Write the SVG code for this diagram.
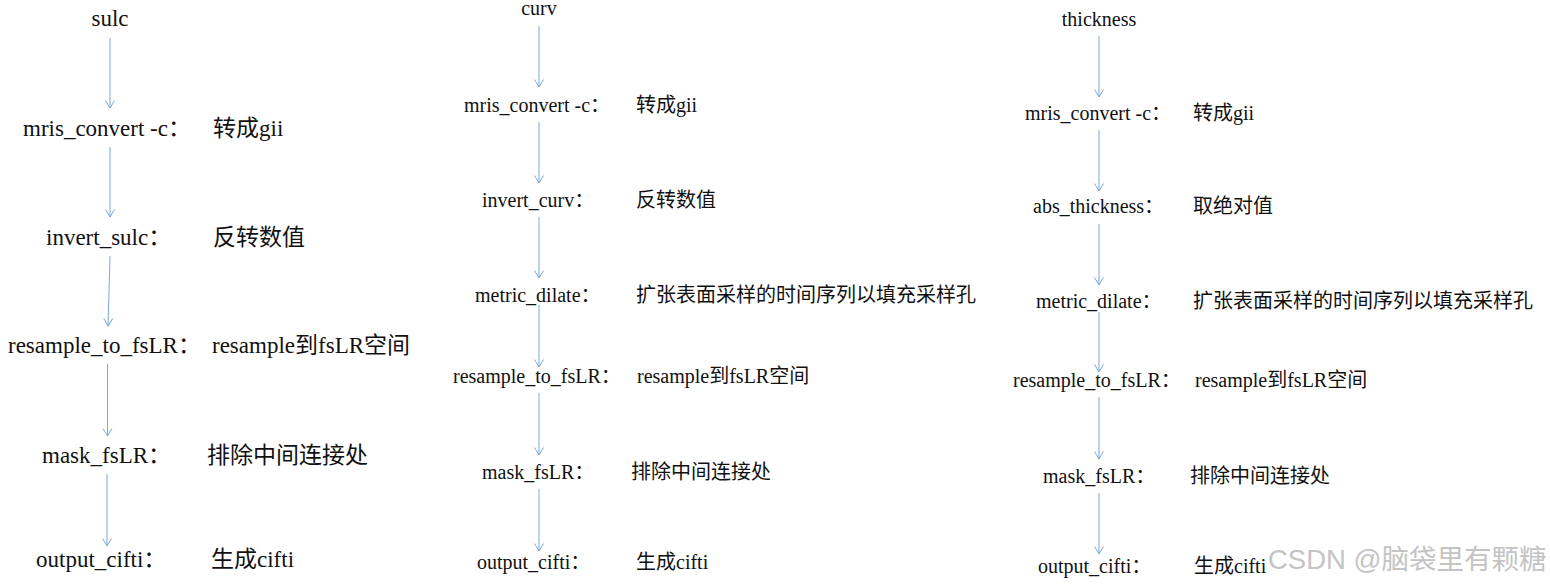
<svg xmlns="http://www.w3.org/2000/svg" width="1550" height="588" viewBox="0 0 1550 588">
<style>
  text { font-family: "Liberation Serif", "Noto Sans CJK SC", serif; fill: #111; }
  .cj { font-family: "Noto Sans CJK SC", sans-serif; }
  .lt { font-family: "Liberation Serif", serif; }
  .c1 { font-size: 23px; }
  .c2 { font-size: 20px; }
  .c3 { font-size: 20px; }
  .mid { text-anchor: middle; }
  .conn line { stroke: #7ba7da; stroke-width: 1; fill: none; }
  .wm { font-family: "Liberation Sans", "Noto Sans CJK SC", sans-serif; font-size: 27.5px; fill: #c4c4c4; }
</style>
<defs>
  <marker id="arr" markerUnits="userSpaceOnUse" markerWidth="12" markerHeight="12" viewBox="-10 -6 12 12" refX="0" refY="0" orient="auto" overflow="visible">
    <path d="M-7.5,-4.5 L0,0 L-7.5,4.5" fill="none" stroke="#7ba7da" stroke-width="1"/>
  </marker>
</defs>
<rect width="1550" height="588" fill="#ffffff"/>

<g class="conn" id="connectors">
  <!-- column 1 -->
  <line x1="110" y1="38" x2="110" y2="108" marker-end="url(#arr)"/>
  <line x1="110" y1="147" x2="110" y2="217" marker-end="url(#arr)"/>
  <line x1="110" y1="256" x2="108" y2="326" marker-end="url(#arr)"/>
  <line x1="107.5" y1="364" x2="107.5" y2="436" marker-end="url(#arr)"/>
  <line x1="107" y1="474" x2="107" y2="546" marker-end="url(#arr)"/>
  <!-- column 2 -->
  <line x1="539" y1="26" x2="539" y2="87" marker-end="url(#arr)"/>
  <line x1="539" y1="122" x2="539" y2="183" marker-end="url(#arr)"/>
  <line x1="539" y1="217" x2="539" y2="278" marker-end="url(#arr)"/>
  <line x1="539" y1="305" x2="539" y2="367" marker-end="url(#arr)"/>
  <line x1="539" y1="393" x2="539" y2="455" marker-end="url(#arr)"/>
  <line x1="539" y1="489" x2="539" y2="551" marker-end="url(#arr)"/>
  <!-- column 3 -->
  <line x1="1099" y1="36" x2="1099" y2="97" marker-end="url(#arr)"/>
  <line x1="1099" y1="130" x2="1099" y2="191" marker-end="url(#arr)"/>
  <line x1="1099" y1="224" x2="1099" y2="285" marker-end="url(#arr)"/>
  <line x1="1099" y1="312" x2="1099" y2="372" marker-end="url(#arr)"/>
  <line x1="1099" y1="397" x2="1099" y2="459" marker-end="url(#arr)"/>
  <line x1="1099" y1="493" x2="1099" y2="554" marker-end="url(#arr)"/>
</g>

<!-- Column 1: sulc -->
<g id="sulc"><text class="c1 mid" x="110" y="26">sulc</text></g>
<g id="sulc-mris_convert"><text class="c1" x="23" y="136"><tspan class="lt">mris_convert -c</tspan><tspan class="cj">：</tspan></text><text class="c1" x="213" y="136"><tspan class="cj">转成</tspan><tspan class="lt">gii</tspan></text></g>
<g id="sulc-invert_sulc"><text class="c1" x="46" y="245"><tspan class="lt">invert_sulc</tspan><tspan class="cj">：</tspan></text><text class="c1 cj" x="213" y="245">反转数值</text></g>
<g id="sulc-resample_to_fsLR"><text class="c1" x="8" y="353"><tspan class="lt">resample_to_fsLR</tspan><tspan class="cj">：</tspan></text><text class="c1" x="212" y="353"><tspan class="lt">resample</tspan><tspan class="cj">到</tspan><tspan class="lt">fsLR</tspan><tspan class="cj">空间</tspan></text></g>
<g id="sulc-mask_fsLR"><text class="c1" x="42" y="463"><tspan class="lt">mask_fsLR</tspan><tspan class="cj">：</tspan></text><text class="c1 cj" x="207" y="463">排除中间连接处</text></g>
<g id="sulc-output_cifti"><text class="c1" x="36" y="567"><tspan class="lt">output_cifti</tspan><tspan class="cj">：</tspan></text><text class="c1" x="211" y="567"><tspan class="cj">生成</tspan><tspan class="lt">cifti</tspan></text></g>

<!-- Column 2: curv -->
<g id="curv"><text class="c2 mid" x="539" y="15">curv</text></g>
<g id="curv-mris_convert"><text class="c2" x="464" y="112"><tspan class="lt">mris_convert -c</tspan><tspan class="cj">：</tspan></text><text class="c2" x="636" y="112"><tspan class="cj">转成</tspan><tspan class="lt">gii</tspan></text></g>
<g id="curv-invert_curv"><text class="c2" x="482" y="207"><tspan class="lt">invert_curv</tspan><tspan class="cj">：</tspan></text><text class="c2 cj" x="636" y="207">反转数值</text></g>
<g id="curv-metric_dilate"><text class="c2" x="475" y="302"><tspan class="lt">metric_dilate</tspan><tspan class="cj">：</tspan></text><text class="c2 cj" x="636" y="302">扩张表面采样的时间序列以填充采样孔</text></g>
<g id="curv-resample_to_fsLR"><text class="c2" x="453" y="383"><tspan class="lt">resample_to_fsLR</tspan><tspan class="cj">：</tspan></text><text class="c2" x="637" y="383"><tspan class="lt">resample</tspan><tspan class="cj">到</tspan><tspan class="lt">fsLR</tspan><tspan class="cj">空间</tspan></text></g>
<g id="curv-mask_fsLR"><text class="c2" x="482" y="479"><tspan class="lt">mask_fsLR</tspan><tspan class="cj">：</tspan></text><text class="c2 cj" x="631" y="479">排除中间连接处</text></g>
<g id="curv-output_cifti"><text class="c2" x="477" y="569"><tspan class="lt">output_cifti</tspan><tspan class="cj">：</tspan></text><text class="c2" x="636" y="569"><tspan class="cj">生成</tspan><tspan class="lt">cifti</tspan></text></g>

<!-- Column 3: thickness -->
<g id="thickness"><text class="c3 mid" x="1099" y="26">thickness</text></g>
<g id="thickness-mris_convert"><text class="c3" x="1025" y="120"><tspan class="lt">mris_convert -c</tspan><tspan class="cj">：</tspan></text><text class="c3" x="1193" y="120"><tspan class="cj">转成</tspan><tspan class="lt">gii</tspan></text></g>
<g id="thickness-abs_thickness"><text class="c3" x="1033" y="213"><tspan class="lt">abs_thickness</tspan><tspan class="cj">：</tspan></text><text class="c3 cj" x="1193" y="213">取绝对值</text></g>
<g id="thickness-metric_dilate"><text class="c3" x="1036" y="308"><tspan class="lt">metric_dilate</tspan><tspan class="cj">：</tspan></text><text class="c3 cj" x="1193" y="308">扩张表面采样的时间序列以填充采样孔</text></g>
<g id="thickness-resample_to_fsLR"><text class="c3" x="1013" y="387"><tspan class="lt">resample_to_fsLR</tspan><tspan class="cj">：</tspan></text><text class="c3" x="1195" y="387"><tspan class="lt">resample</tspan><tspan class="cj">到</tspan><tspan class="lt">fsLR</tspan><tspan class="cj">空间</tspan></text></g>
<g id="thickness-mask_fsLR"><text class="c3" x="1043" y="483"><tspan class="lt">mask_fsLR</tspan><tspan class="cj">：</tspan></text><text class="c3 cj" x="1190" y="483">排除中间连接处</text></g>
<g id="thickness-output_cifti"><text class="c3" x="1038" y="573"><tspan class="lt">output_cifti</tspan><tspan class="cj">：</tspan></text><text class="c3" x="1194" y="573"><tspan class="cj">生成</tspan><tspan class="lt">cifti</tspan></text></g>

<g id="watermark"><text class="wm" x="1268" y="569">CSDN @脑袋里有颗糖</text></g>
</svg>
